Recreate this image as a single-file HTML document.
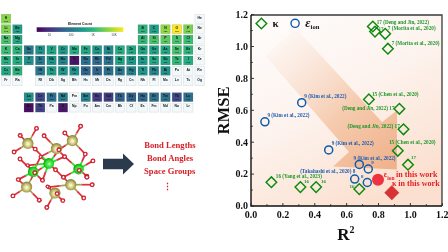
<!DOCTYPE html>
<html><head><meta charset="utf-8"><style>
html,body{margin:0;padding:0;background:#fff;width:448px;height:252px;overflow:hidden}
svg{display:block}
.ps{font-family:"Liberation Sans",sans-serif;font-size:3.4px;font-weight:bold;text-anchor:middle;fill:#111}
.pn{font-family:"Liberation Sans",sans-serif;font-size:2.3px;text-anchor:middle;fill:#1a1a1a}
.lb{font-family:"Liberation Serif",serif;font-size:5.2px;font-weight:bold}
.tk{font-family:"Liberation Serif",serif;font-size:10px;font-weight:bold;fill:#111}
.rt{font-family:"Liberation Serif",serif;font-weight:bold;fill:#d42027}
</style></head><body>
<svg width="448" height="252" viewBox="0 0 448 252">
<defs>
<linearGradient id="cb" x1="0" y1="0" x2="1" y2="0"><stop offset="0.000" stop-color="#440154"/><stop offset="0.111" stop-color="#482878"/><stop offset="0.222" stop-color="#3e4989"/><stop offset="0.333" stop-color="#31688e"/><stop offset="0.444" stop-color="#26828e"/><stop offset="0.556" stop-color="#1f9e89"/><stop offset="0.667" stop-color="#35b779"/><stop offset="0.778" stop-color="#6ece58"/><stop offset="0.889" stop-color="#b5de2b"/><stop offset="1.000" stop-color="#fde725"/></linearGradient>
<radialGradient id="gO" cx="0.5" cy="0.5" r="0.5"><stop offset="0" stop-color="#fff"/><stop offset="0.3" stop-color="#fff2f2"/><stop offset="0.5" stop-color="#e8404c"/><stop offset="0.8" stop-color="#d01e2c"/><stop offset="1" stop-color="#a0101c"/></radialGradient>
<radialGradient id="gP" cx="0.5" cy="0.55" r="0.55"><stop offset="0" stop-color="#fffff4"/><stop offset="0.25" stop-color="#ebe8b0"/><stop offset="0.62" stop-color="#bcb568"/><stop offset="1" stop-color="#7e7830"/></radialGradient>
<radialGradient id="gM" cx="0.55" cy="0.55" r="0.55"><stop offset="0" stop-color="#efffe8"/><stop offset="0.25" stop-color="#60f060"/><stop offset="0.75" stop-color="#22d022"/><stop offset="1" stop-color="#0e960e"/></radialGradient>
<linearGradient id="bg" x1="251" y1="15" x2="360" y2="212" gradientUnits="userSpaceOnUse"><stop offset="0" stop-color="#fefdfc"/><stop offset="0.5" stop-color="#fdf3ee"/><stop offset="1" stop-color="#fbe0cf"/></linearGradient>
<linearGradient id="ag" x1="280.75" y1="42.25" x2="396.8" y2="169.5" gradientUnits="userSpaceOnUse"><stop offset="0" stop-color="#f8dccb" stop-opacity="0.15"/><stop offset="0.55" stop-color="#f4c4a4" stop-opacity="0.85"/><stop offset="1" stop-color="#efb089"/></linearGradient>
</defs>
<rect width="448" height="252" fill="#fff"/>
<g><rect x="1.30" y="14.30" width="9.40" height="8.90" fill="#86d549" stroke="#000" stroke-opacity="0.18" stroke-width="0.6"/><text x="6.00" y="18.50" class="ps">H</text><text x="6.00" y="21.50" class="pn">123</text><rect x="194.93" y="14.30" width="9.40" height="8.90" fill="#f3f9fa" stroke="#d9dfe2" stroke-width="0.6"/><text x="199.63" y="18.50" class="ps">He</text><text x="199.63" y="21.90" class="pn" fill="#aaa">-</text><rect x="1.30" y="24.72" width="9.40" height="8.90" fill="#7ed34f" stroke="#000" stroke-opacity="0.18" stroke-width="0.6"/><text x="6.00" y="28.92" class="ps">Li</text><text x="6.00" y="31.92" class="pn">123</text><rect x="12.69" y="24.72" width="9.40" height="8.90" fill="#1f9e89" stroke="#000" stroke-opacity="0.18" stroke-width="0.6"/><text x="17.39" y="28.92" class="ps">Be</text><text x="17.39" y="31.92" class="pn">123</text><rect x="137.98" y="24.72" width="9.40" height="8.90" fill="#2db27d" stroke="#000" stroke-opacity="0.18" stroke-width="0.6"/><text x="142.68" y="28.92" class="ps">B</text><text x="142.68" y="31.92" class="pn">123</text><rect x="149.37" y="24.72" width="9.40" height="8.90" fill="#1f9e89" stroke="#000" stroke-opacity="0.18" stroke-width="0.6"/><text x="154.07" y="28.92" class="ps">C</text><text x="154.07" y="31.92" class="pn">123</text><rect x="160.76" y="24.72" width="9.40" height="8.90" fill="#8fd744" stroke="#000" stroke-opacity="0.18" stroke-width="0.6"/><text x="165.46" y="28.92" class="ps">N</text><text x="165.46" y="31.92" class="pn">123</text><rect x="172.15" y="24.72" width="9.40" height="8.90" fill="#fde725" stroke="#000" stroke-opacity="0.18" stroke-width="0.6"/><text x="176.85" y="28.92" class="ps">O</text><text x="176.85" y="31.92" class="pn">123</text><rect x="183.54" y="24.72" width="9.40" height="8.90" fill="#7ad151" stroke="#000" stroke-opacity="0.18" stroke-width="0.6"/><text x="188.24" y="28.92" class="ps">F</text><text x="188.24" y="31.92" class="pn">123</text><rect x="194.93" y="24.72" width="9.40" height="8.90" fill="#f3f9fa" stroke="#d9dfe2" stroke-width="0.6"/><text x="199.63" y="28.92" class="ps">Ne</text><text x="199.63" y="32.32" class="pn" fill="#aaa">-</text><rect x="1.30" y="35.14" width="9.40" height="8.90" fill="#4ac16d" stroke="#000" stroke-opacity="0.18" stroke-width="0.6"/><text x="6.00" y="39.34" class="ps">Na</text><text x="6.00" y="42.34" class="pn">123</text><rect x="12.69" y="35.14" width="9.40" height="8.90" fill="#22a884" stroke="#000" stroke-opacity="0.18" stroke-width="0.6"/><text x="17.39" y="39.34" class="ps">Mg</text><text x="17.39" y="42.34" class="pn">123</text><rect x="137.98" y="35.14" width="9.40" height="8.90" fill="#35b779" stroke="#000" stroke-opacity="0.18" stroke-width="0.6"/><text x="142.68" y="39.34" class="ps">Al</text><text x="142.68" y="42.34" class="pn">123</text><rect x="149.37" y="35.14" width="9.40" height="8.90" fill="#4ac16d" stroke="#000" stroke-opacity="0.18" stroke-width="0.6"/><text x="154.07" y="39.34" class="ps">Si</text><text x="154.07" y="42.34" class="pn">123</text><rect x="160.76" y="35.14" width="9.40" height="8.90" fill="#5ec962" stroke="#000" stroke-opacity="0.18" stroke-width="0.6"/><text x="165.46" y="39.34" class="ps">P</text><text x="165.46" y="42.34" class="pn">123</text><rect x="172.15" y="35.14" width="9.40" height="8.90" fill="#4ac16d" stroke="#000" stroke-opacity="0.18" stroke-width="0.6"/><text x="176.85" y="39.34" class="ps">S</text><text x="176.85" y="42.34" class="pn">123</text><rect x="183.54" y="35.14" width="9.40" height="8.90" fill="#3dbc74" stroke="#000" stroke-opacity="0.18" stroke-width="0.6"/><text x="188.24" y="39.34" class="ps">Cl</text><text x="188.24" y="42.34" class="pn">123</text><rect x="194.93" y="35.14" width="9.40" height="8.90" fill="#f3f9fa" stroke="#d9dfe2" stroke-width="0.6"/><text x="199.63" y="39.34" class="ps">Ar</text><text x="199.63" y="42.74" class="pn" fill="#aaa">-</text><rect x="1.30" y="45.56" width="9.40" height="8.90" fill="#3dbc74" stroke="#000" stroke-opacity="0.18" stroke-width="0.6"/><text x="6.00" y="49.76" class="ps">K</text><text x="6.00" y="52.76" class="pn">123</text><rect x="12.69" y="45.56" width="9.40" height="8.90" fill="#2fb47c" stroke="#000" stroke-opacity="0.18" stroke-width="0.6"/><text x="17.39" y="49.76" class="ps">Ca</text><text x="17.39" y="52.76" class="pn">123</text><rect x="24.08" y="45.56" width="9.40" height="8.90" fill="#2a788e" stroke="#000" stroke-opacity="0.18" stroke-width="0.6"/><text x="28.78" y="49.76" class="ps">Sc</text><text x="28.78" y="52.76" class="pn">123</text><rect x="35.47" y="45.56" width="9.40" height="8.90" fill="#21918c" stroke="#000" stroke-opacity="0.18" stroke-width="0.6"/><text x="40.17" y="49.76" class="ps">Ti</text><text x="40.17" y="52.76" class="pn">123</text><rect x="46.86" y="45.56" width="9.40" height="8.90" fill="#20a386" stroke="#000" stroke-opacity="0.18" stroke-width="0.6"/><text x="51.56" y="49.76" class="ps">V</text><text x="51.56" y="52.76" class="pn">123</text><rect x="58.25" y="45.56" width="9.40" height="8.90" fill="#1f9a8a" stroke="#000" stroke-opacity="0.18" stroke-width="0.6"/><text x="62.95" y="49.76" class="ps">Cr</text><text x="62.95" y="52.76" class="pn">123</text><rect x="69.64" y="45.56" width="9.40" height="8.90" fill="#27ad81" stroke="#000" stroke-opacity="0.18" stroke-width="0.6"/><text x="74.34" y="49.76" class="ps">Mn</text><text x="74.34" y="52.76" class="pn">123</text><rect x="81.03" y="45.56" width="9.40" height="8.90" fill="#22a884" stroke="#000" stroke-opacity="0.18" stroke-width="0.6"/><text x="85.73" y="49.76" class="ps">Fe</text><text x="85.73" y="52.76" class="pn">123</text><rect x="92.42" y="45.56" width="9.40" height="8.90" fill="#1f9a8a" stroke="#000" stroke-opacity="0.18" stroke-width="0.6"/><text x="97.12" y="49.76" class="ps">Co</text><text x="97.12" y="52.76" class="pn">123</text><rect x="103.81" y="45.56" width="9.40" height="8.90" fill="#228c8d" stroke="#000" stroke-opacity="0.18" stroke-width="0.6"/><text x="108.51" y="49.76" class="ps">Ni</text><text x="108.51" y="52.76" class="pn">123</text><rect x="115.20" y="45.56" width="9.40" height="8.90" fill="#25ac82" stroke="#000" stroke-opacity="0.18" stroke-width="0.6"/><text x="119.90" y="49.76" class="ps">Cu</text><text x="119.90" y="52.76" class="pn">123</text><rect x="126.59" y="45.56" width="9.40" height="8.90" fill="#22a884" stroke="#000" stroke-opacity="0.18" stroke-width="0.6"/><text x="131.29" y="49.76" class="ps">Zn</text><text x="131.29" y="52.76" class="pn">123</text><rect x="137.98" y="45.56" width="9.40" height="8.90" fill="#22a884" stroke="#000" stroke-opacity="0.18" stroke-width="0.6"/><text x="142.68" y="49.76" class="ps">Ga</text><text x="142.68" y="52.76" class="pn">123</text><rect x="149.37" y="45.56" width="9.40" height="8.90" fill="#20a386" stroke="#000" stroke-opacity="0.18" stroke-width="0.6"/><text x="154.07" y="49.76" class="ps">Ge</text><text x="154.07" y="52.76" class="pn">123</text><rect x="160.76" y="45.56" width="9.40" height="8.90" fill="#22a884" stroke="#000" stroke-opacity="0.18" stroke-width="0.6"/><text x="165.46" y="49.76" class="ps">As</text><text x="165.46" y="52.76" class="pn">123</text><rect x="172.15" y="45.56" width="9.40" height="8.90" fill="#4ac16d" stroke="#000" stroke-opacity="0.18" stroke-width="0.6"/><text x="176.85" y="49.76" class="ps">Se</text><text x="176.85" y="52.76" class="pn">123</text><rect x="183.54" y="45.56" width="9.40" height="8.90" fill="#2fb47c" stroke="#000" stroke-opacity="0.18" stroke-width="0.6"/><text x="188.24" y="49.76" class="ps">Br</text><text x="188.24" y="52.76" class="pn">123</text><rect x="194.93" y="45.56" width="9.40" height="8.90" fill="#f3f9fa" stroke="#d9dfe2" stroke-width="0.6"/><text x="199.63" y="49.76" class="ps">Kr</text><text x="199.63" y="53.16" class="pn" fill="#aaa">-</text><rect x="1.30" y="55.98" width="9.40" height="8.90" fill="#29af7f" stroke="#000" stroke-opacity="0.18" stroke-width="0.6"/><text x="6.00" y="60.18" class="ps">Rb</text><text x="6.00" y="63.18" class="pn">123</text><rect x="12.69" y="55.98" width="9.40" height="8.90" fill="#25ac82" stroke="#000" stroke-opacity="0.18" stroke-width="0.6"/><text x="17.39" y="60.18" class="ps">Sr</text><text x="17.39" y="63.18" class="pn">123</text><rect x="24.08" y="55.98" width="9.40" height="8.90" fill="#21918c" stroke="#000" stroke-opacity="0.18" stroke-width="0.6"/><text x="28.78" y="60.18" class="ps">Y</text><text x="28.78" y="63.18" class="pn">123</text><rect x="35.47" y="55.98" width="9.40" height="8.90" fill="#29798e" stroke="#000" stroke-opacity="0.18" stroke-width="0.6"/><text x="40.17" y="60.18" class="ps">Zr</text><text x="40.17" y="63.18" class="pn">123</text><rect x="46.86" y="55.98" width="9.40" height="8.90" fill="#1f968b" stroke="#000" stroke-opacity="0.18" stroke-width="0.6"/><text x="51.56" y="60.18" class="ps">Nb</text><text x="51.56" y="63.18" class="pn">123</text><rect x="58.25" y="55.98" width="9.40" height="8.90" fill="#25848e" stroke="#000" stroke-opacity="0.18" stroke-width="0.6"/><text x="62.95" y="60.18" class="ps">Mo</text><text x="62.95" y="63.18" class="pn">123</text><rect x="69.64" y="55.98" width="9.40" height="8.90" fill="#481668" stroke="#000" stroke-opacity="0.18" stroke-width="0.6"/><text x="74.34" y="60.18" class="ps">Tc</text><text x="74.34" y="63.18" class="pn">123</text><rect x="81.03" y="55.98" width="9.40" height="8.90" fill="#2c728e" stroke="#000" stroke-opacity="0.18" stroke-width="0.6"/><text x="85.73" y="60.18" class="ps">Ru</text><text x="85.73" y="63.18" class="pn">123</text><rect x="92.42" y="55.98" width="9.40" height="8.90" fill="#2f6c8e" stroke="#000" stroke-opacity="0.18" stroke-width="0.6"/><text x="97.12" y="60.18" class="ps">Rh</text><text x="97.12" y="63.18" class="pn">123</text><rect x="103.81" y="55.98" width="9.40" height="8.90" fill="#2c738e" stroke="#000" stroke-opacity="0.18" stroke-width="0.6"/><text x="108.51" y="60.18" class="ps">Pd</text><text x="108.51" y="63.18" class="pn">123</text><rect x="115.20" y="55.98" width="9.40" height="8.90" fill="#21a585" stroke="#000" stroke-opacity="0.18" stroke-width="0.6"/><text x="119.90" y="60.18" class="ps">Ag</text><text x="119.90" y="63.18" class="pn">123</text><rect x="126.59" y="55.98" width="9.40" height="8.90" fill="#1f9a8a" stroke="#000" stroke-opacity="0.18" stroke-width="0.6"/><text x="131.29" y="60.18" class="ps">Cd</text><text x="131.29" y="63.18" class="pn">123</text><rect x="137.98" y="55.98" width="9.40" height="8.90" fill="#1f9a8a" stroke="#000" stroke-opacity="0.18" stroke-width="0.6"/><text x="142.68" y="60.18" class="ps">In</text><text x="142.68" y="63.18" class="pn">123</text><rect x="149.37" y="55.98" width="9.40" height="8.90" fill="#22a884" stroke="#000" stroke-opacity="0.18" stroke-width="0.6"/><text x="154.07" y="60.18" class="ps">Sn</text><text x="154.07" y="63.18" class="pn">123</text><rect x="160.76" y="55.98" width="9.40" height="8.90" fill="#21a585" stroke="#000" stroke-opacity="0.18" stroke-width="0.6"/><text x="165.46" y="60.18" class="ps">Sb</text><text x="165.46" y="63.18" class="pn">123</text><rect x="172.15" y="55.98" width="9.40" height="8.90" fill="#35b779" stroke="#000" stroke-opacity="0.18" stroke-width="0.6"/><text x="176.85" y="60.18" class="ps">Te</text><text x="176.85" y="63.18" class="pn">123</text><rect x="183.54" y="55.98" width="9.40" height="8.90" fill="#25ac82" stroke="#000" stroke-opacity="0.18" stroke-width="0.6"/><text x="188.24" y="60.18" class="ps">I</text><text x="188.24" y="63.18" class="pn">123</text><rect x="194.93" y="55.98" width="9.40" height="8.90" fill="#f3f9fa" stroke="#d9dfe2" stroke-width="0.6"/><text x="199.63" y="60.18" class="ps">Xe</text><text x="199.63" y="63.58" class="pn" fill="#aaa">-</text><rect x="1.30" y="66.40" width="9.40" height="8.90" fill="#22a884" stroke="#000" stroke-opacity="0.18" stroke-width="0.6"/><text x="6.00" y="70.60" class="ps">Cs</text><text x="6.00" y="73.60" class="pn">123</text><rect x="12.69" y="66.40" width="9.40" height="8.90" fill="#2db27d" stroke="#000" stroke-opacity="0.18" stroke-width="0.6"/><text x="17.39" y="70.60" class="ps">Ba</text><text x="17.39" y="73.60" class="pn">123</text><rect x="35.47" y="66.40" width="9.40" height="8.90" fill="#2a788e" stroke="#000" stroke-opacity="0.18" stroke-width="0.6"/><text x="40.17" y="70.60" class="ps">Hf</text><text x="40.17" y="73.60" class="pn">123</text><rect x="46.86" y="66.40" width="9.40" height="8.90" fill="#1f9e89" stroke="#000" stroke-opacity="0.18" stroke-width="0.6"/><text x="51.56" y="70.60" class="ps">Ta</text><text x="51.56" y="73.60" class="pn">123</text><rect x="58.25" y="66.40" width="9.40" height="8.90" fill="#1f958b" stroke="#000" stroke-opacity="0.18" stroke-width="0.6"/><text x="62.95" y="70.60" class="ps">W</text><text x="62.95" y="73.60" class="pn">123</text><rect x="69.64" y="66.40" width="9.40" height="8.90" fill="#20928c" stroke="#000" stroke-opacity="0.18" stroke-width="0.6"/><text x="74.34" y="70.60" class="ps">Re</text><text x="74.34" y="73.60" class="pn">123</text><rect x="81.03" y="66.40" width="9.40" height="8.90" fill="#31688e" stroke="#000" stroke-opacity="0.18" stroke-width="0.6"/><text x="85.73" y="70.60" class="ps">Os</text><text x="85.73" y="73.60" class="pn">123</text><rect x="92.42" y="66.40" width="9.40" height="8.90" fill="#32658e" stroke="#000" stroke-opacity="0.18" stroke-width="0.6"/><text x="97.12" y="70.60" class="ps">Ir</text><text x="97.12" y="73.60" class="pn">123</text><rect x="103.81" y="66.40" width="9.40" height="8.90" fill="#2c728e" stroke="#000" stroke-opacity="0.18" stroke-width="0.6"/><text x="108.51" y="70.60" class="ps">Pt</text><text x="108.51" y="73.60" class="pn">123</text><rect x="115.20" y="66.40" width="9.40" height="8.90" fill="#2a788e" stroke="#000" stroke-opacity="0.18" stroke-width="0.6"/><text x="119.90" y="70.60" class="ps">Au</text><text x="119.90" y="73.60" class="pn">123</text><rect x="126.59" y="66.40" width="9.40" height="8.90" fill="#25848e" stroke="#000" stroke-opacity="0.18" stroke-width="0.6"/><text x="131.29" y="70.60" class="ps">Hg</text><text x="131.29" y="73.60" class="pn">123</text><rect x="137.98" y="66.40" width="9.40" height="8.90" fill="#1f958b" stroke="#000" stroke-opacity="0.18" stroke-width="0.6"/><text x="142.68" y="70.60" class="ps">Tl</text><text x="142.68" y="73.60" class="pn">123</text><rect x="149.37" y="66.40" width="9.40" height="8.90" fill="#25848e" stroke="#000" stroke-opacity="0.18" stroke-width="0.6"/><text x="154.07" y="70.60" class="ps">Pb</text><text x="154.07" y="73.60" class="pn">123</text><rect x="160.76" y="66.40" width="9.40" height="8.90" fill="#21918c" stroke="#000" stroke-opacity="0.18" stroke-width="0.6"/><text x="165.46" y="70.60" class="ps">Bi</text><text x="165.46" y="73.60" class="pn">123</text><rect x="172.15" y="66.40" width="9.40" height="8.90" fill="#f3f9fa" stroke="#d9dfe2" stroke-width="0.6"/><text x="176.85" y="70.60" class="ps">Po</text><text x="176.85" y="74.00" class="pn" fill="#aaa">-</text><rect x="183.54" y="66.40" width="9.40" height="8.90" fill="#f3f9fa" stroke="#d9dfe2" stroke-width="0.6"/><text x="188.24" y="70.60" class="ps">At</text><text x="188.24" y="74.00" class="pn" fill="#aaa">-</text><rect x="194.93" y="66.40" width="9.40" height="8.90" fill="#f3f9fa" stroke="#d9dfe2" stroke-width="0.6"/><text x="199.63" y="70.60" class="ps">Rn</text><text x="199.63" y="74.00" class="pn" fill="#aaa">-</text><rect x="1.30" y="76.82" width="9.40" height="8.90" fill="#f3f9fa" stroke="#d9dfe2" stroke-width="0.6"/><text x="6.00" y="81.02" class="ps">Fr</text><text x="6.00" y="84.42" class="pn" fill="#aaa">-</text><rect x="12.69" y="76.82" width="9.40" height="8.90" fill="#f3f9fa" stroke="#d9dfe2" stroke-width="0.6"/><text x="17.39" y="81.02" class="ps">Ra</text><text x="17.39" y="84.42" class="pn" fill="#aaa">-</text><rect x="35.47" y="76.82" width="9.40" height="8.90" fill="#f3f9fa" stroke="#d9dfe2" stroke-width="0.6"/><text x="40.17" y="81.02" class="ps">Rf</text><text x="40.17" y="84.42" class="pn" fill="#aaa">-</text><rect x="46.86" y="76.82" width="9.40" height="8.90" fill="#f3f9fa" stroke="#d9dfe2" stroke-width="0.6"/><text x="51.56" y="81.02" class="ps">Db</text><text x="51.56" y="84.42" class="pn" fill="#aaa">-</text><rect x="58.25" y="76.82" width="9.40" height="8.90" fill="#f3f9fa" stroke="#d9dfe2" stroke-width="0.6"/><text x="62.95" y="81.02" class="ps">Sg</text><text x="62.95" y="84.42" class="pn" fill="#aaa">-</text><rect x="69.64" y="76.82" width="9.40" height="8.90" fill="#f3f9fa" stroke="#d9dfe2" stroke-width="0.6"/><text x="74.34" y="81.02" class="ps">Bh</text><text x="74.34" y="84.42" class="pn" fill="#aaa">-</text><rect x="81.03" y="76.82" width="9.40" height="8.90" fill="#f3f9fa" stroke="#d9dfe2" stroke-width="0.6"/><text x="85.73" y="81.02" class="ps">Hs</text><text x="85.73" y="84.42" class="pn" fill="#aaa">-</text><rect x="92.42" y="76.82" width="9.40" height="8.90" fill="#f3f9fa" stroke="#d9dfe2" stroke-width="0.6"/><text x="97.12" y="81.02" class="ps">Mt</text><text x="97.12" y="84.42" class="pn" fill="#aaa">-</text><rect x="103.81" y="76.82" width="9.40" height="8.90" fill="#f3f9fa" stroke="#d9dfe2" stroke-width="0.6"/><text x="108.51" y="81.02" class="ps">Ds</text><text x="108.51" y="84.42" class="pn" fill="#aaa">-</text><rect x="115.20" y="76.82" width="9.40" height="8.90" fill="#f3f9fa" stroke="#d9dfe2" stroke-width="0.6"/><text x="119.90" y="81.02" class="ps">Rg</text><text x="119.90" y="84.42" class="pn" fill="#aaa">-</text><rect x="126.59" y="76.82" width="9.40" height="8.90" fill="#f3f9fa" stroke="#d9dfe2" stroke-width="0.6"/><text x="131.29" y="81.02" class="ps">Cn</text><text x="131.29" y="84.42" class="pn" fill="#aaa">-</text><rect x="137.98" y="76.82" width="9.40" height="8.90" fill="#f3f9fa" stroke="#d9dfe2" stroke-width="0.6"/><text x="142.68" y="81.02" class="ps">Nh</text><text x="142.68" y="84.42" class="pn" fill="#aaa">-</text><rect x="149.37" y="76.82" width="9.40" height="8.90" fill="#f3f9fa" stroke="#d9dfe2" stroke-width="0.6"/><text x="154.07" y="81.02" class="ps">Fl</text><text x="154.07" y="84.42" class="pn" fill="#aaa">-</text><rect x="160.76" y="76.82" width="9.40" height="8.90" fill="#f3f9fa" stroke="#d9dfe2" stroke-width="0.6"/><text x="165.46" y="81.02" class="ps">Mc</text><text x="165.46" y="84.42" class="pn" fill="#aaa">-</text><rect x="172.15" y="76.82" width="9.40" height="8.90" fill="#f3f9fa" stroke="#d9dfe2" stroke-width="0.6"/><text x="176.85" y="81.02" class="ps">Lv</text><text x="176.85" y="84.42" class="pn" fill="#aaa">-</text><rect x="183.54" y="76.82" width="9.40" height="8.90" fill="#f3f9fa" stroke="#d9dfe2" stroke-width="0.6"/><text x="188.24" y="81.02" class="ps">Ts</text><text x="188.24" y="84.42" class="pn" fill="#aaa">-</text><rect x="194.93" y="76.82" width="9.40" height="8.90" fill="#f3f9fa" stroke="#d9dfe2" stroke-width="0.6"/><text x="199.63" y="81.02" class="ps">Og</text><text x="199.63" y="84.42" class="pn" fill="#aaa">-</text><rect x="24.08" y="92.70" width="9.40" height="8.90" fill="#21918c" stroke="#000" stroke-opacity="0.18" stroke-width="0.6"/><text x="28.78" y="96.90" class="ps">La</text><text x="28.78" y="99.90" class="pn">123</text><rect x="24.08" y="103.20" width="9.40" height="8.90" fill="#471063" stroke="#000" stroke-opacity="0.18" stroke-width="0.6"/><text x="28.78" y="107.40" class="ps">Ac</text><text x="28.78" y="110.40" class="pn">123</text><rect x="35.47" y="92.70" width="9.40" height="8.90" fill="#3e4989" stroke="#000" stroke-opacity="0.18" stroke-width="0.6"/><text x="40.17" y="96.90" class="ps">Ce</text><text x="40.17" y="99.90" class="pn">123</text><rect x="35.47" y="103.20" width="9.40" height="8.90" fill="#414487" stroke="#000" stroke-opacity="0.18" stroke-width="0.6"/><text x="40.17" y="107.40" class="ps">Th</text><text x="40.17" y="110.40" class="pn">123</text><rect x="46.86" y="92.70" width="9.40" height="8.90" fill="#2c728e" stroke="#000" stroke-opacity="0.18" stroke-width="0.6"/><text x="51.56" y="96.90" class="ps">Pr</text><text x="51.56" y="99.90" class="pn">123</text><rect x="46.86" y="103.20" width="9.40" height="8.90" fill="#f3f9fa" stroke="#d9dfe2" stroke-width="0.6"/><text x="51.56" y="107.40" class="ps">Pa</text><text x="51.56" y="110.80" class="pn" fill="#aaa">-</text><rect x="58.25" y="92.70" width="9.40" height="8.90" fill="#287c8e" stroke="#000" stroke-opacity="0.18" stroke-width="0.6"/><text x="62.95" y="96.90" class="ps">Nd</text><text x="62.95" y="99.90" class="pn">123</text><rect x="58.25" y="103.20" width="9.40" height="8.90" fill="#481a6c" stroke="#000" stroke-opacity="0.18" stroke-width="0.6"/><text x="62.95" y="107.40" class="ps">U</text><text x="62.95" y="110.40" class="pn">123</text><rect x="69.64" y="92.70" width="9.40" height="8.90" fill="#f3f9fa" stroke="#d9dfe2" stroke-width="0.6"/><text x="74.34" y="96.90" class="ps">Pm</text><text x="74.34" y="100.30" class="pn" fill="#aaa">-</text><rect x="69.64" y="103.20" width="9.40" height="8.90" fill="#f3f9fa" stroke="#d9dfe2" stroke-width="0.6"/><text x="74.34" y="107.40" class="ps">Np</text><text x="74.34" y="110.80" class="pn" fill="#aaa">-</text><rect x="81.03" y="92.70" width="9.40" height="8.90" fill="#26828e" stroke="#000" stroke-opacity="0.18" stroke-width="0.6"/><text x="85.73" y="96.90" class="ps">Sm</text><text x="85.73" y="99.90" class="pn">123</text><rect x="81.03" y="103.20" width="9.40" height="8.90" fill="#f3f9fa" stroke="#d9dfe2" stroke-width="0.6"/><text x="85.73" y="107.40" class="ps">Pu</text><text x="85.73" y="110.80" class="pn" fill="#aaa">-</text><rect x="92.42" y="92.70" width="9.40" height="8.90" fill="#433e85" stroke="#000" stroke-opacity="0.18" stroke-width="0.6"/><text x="97.12" y="96.90" class="ps">Eu</text><text x="97.12" y="99.90" class="pn">123</text><rect x="92.42" y="103.20" width="9.40" height="8.90" fill="#f3f9fa" stroke="#d9dfe2" stroke-width="0.6"/><text x="97.12" y="107.40" class="ps">Am</text><text x="97.12" y="110.80" class="pn" fill="#aaa">-</text><rect x="103.81" y="92.70" width="9.40" height="8.90" fill="#423f85" stroke="#000" stroke-opacity="0.18" stroke-width="0.6"/><text x="108.51" y="96.90" class="ps">Gd</text><text x="108.51" y="99.90" class="pn">123</text><rect x="103.81" y="103.20" width="9.40" height="8.90" fill="#f3f9fa" stroke="#d9dfe2" stroke-width="0.6"/><text x="108.51" y="107.40" class="ps">Cm</text><text x="108.51" y="110.80" class="pn" fill="#aaa">-</text><rect x="115.20" y="92.70" width="9.40" height="8.90" fill="#33638d" stroke="#000" stroke-opacity="0.18" stroke-width="0.6"/><text x="119.90" y="96.90" class="ps">Tb</text><text x="119.90" y="99.90" class="pn">123</text><rect x="115.20" y="103.20" width="9.40" height="8.90" fill="#f3f9fa" stroke="#d9dfe2" stroke-width="0.6"/><text x="119.90" y="107.40" class="ps">Bk</text><text x="119.90" y="110.80" class="pn" fill="#aaa">-</text><rect x="126.59" y="92.70" width="9.40" height="8.90" fill="#33638d" stroke="#000" stroke-opacity="0.18" stroke-width="0.6"/><text x="131.29" y="96.90" class="ps">Dy</text><text x="131.29" y="99.90" class="pn">123</text><rect x="126.59" y="103.20" width="9.40" height="8.90" fill="#f3f9fa" stroke="#d9dfe2" stroke-width="0.6"/><text x="131.29" y="107.40" class="ps">Cf</text><text x="131.29" y="110.80" class="pn" fill="#aaa">-</text><rect x="137.98" y="92.70" width="9.40" height="8.90" fill="#31688e" stroke="#000" stroke-opacity="0.18" stroke-width="0.6"/><text x="142.68" y="96.90" class="ps">Ho</text><text x="142.68" y="99.90" class="pn">123</text><rect x="137.98" y="103.20" width="9.40" height="8.90" fill="#f3f9fa" stroke="#d9dfe2" stroke-width="0.6"/><text x="142.68" y="107.40" class="ps">Es</text><text x="142.68" y="110.80" class="pn" fill="#aaa">-</text><rect x="149.37" y="92.70" width="9.40" height="8.90" fill="#2d708e" stroke="#000" stroke-opacity="0.18" stroke-width="0.6"/><text x="154.07" y="96.90" class="ps">Er</text><text x="154.07" y="99.90" class="pn">123</text><rect x="149.37" y="103.20" width="9.40" height="8.90" fill="#f3f9fa" stroke="#d9dfe2" stroke-width="0.6"/><text x="154.07" y="107.40" class="ps">Fm</text><text x="154.07" y="110.80" class="pn" fill="#aaa">-</text><rect x="160.76" y="92.70" width="9.40" height="8.90" fill="#2c728e" stroke="#000" stroke-opacity="0.18" stroke-width="0.6"/><text x="165.46" y="96.90" class="ps">Tm</text><text x="165.46" y="99.90" class="pn">123</text><rect x="160.76" y="103.20" width="9.40" height="8.90" fill="#f3f9fa" stroke="#d9dfe2" stroke-width="0.6"/><text x="165.46" y="107.40" class="ps">Md</text><text x="165.46" y="110.80" class="pn" fill="#aaa">-</text><rect x="172.15" y="92.70" width="9.40" height="8.90" fill="#3e4a89" stroke="#000" stroke-opacity="0.18" stroke-width="0.6"/><text x="176.85" y="96.90" class="ps">Yb</text><text x="176.85" y="99.90" class="pn">123</text><rect x="172.15" y="103.20" width="9.40" height="8.90" fill="#f3f9fa" stroke="#d9dfe2" stroke-width="0.6"/><text x="176.85" y="107.40" class="ps">No</text><text x="176.85" y="110.80" class="pn" fill="#aaa">-</text><rect x="183.54" y="92.70" width="9.40" height="8.90" fill="#2c728e" stroke="#000" stroke-opacity="0.18" stroke-width="0.6"/><text x="188.24" y="96.90" class="ps">Lu</text><text x="188.24" y="99.90" class="pn">123</text><rect x="183.54" y="103.20" width="9.40" height="8.90" fill="#f3f9fa" stroke="#d9dfe2" stroke-width="0.6"/><text x="188.24" y="107.40" class="ps">Lr</text><text x="188.24" y="110.80" class="pn" fill="#aaa">-</text></g>
<rect x="36.7" y="27.3" width="86.6" height="4.6" fill="url(#cb)"/>
<text x="79.9" y="25.3" text-anchor="middle" style="font-family:'Liberation Sans',sans-serif;font-size:3.4px;font-weight:bold;fill:#111">Element Count</text>
<g style="font-family:'Liberation Sans',sans-serif;font-size:3px;fill:#444" text-anchor="middle">
<text x="49.5" y="36.1">10</text><text x="71" y="36.1">100</text><text x="93" y="36.1">1K</text><text x="114" y="36.1">10K</text></g>
<g><line x1="55.5" y1="169.8" x2="63.4" y2="177.3" stroke="#e0303c" stroke-width="1.7"/><line x1="27.9" y1="143.4" x2="32.20" y2="135.90" stroke="#aaa055" stroke-width="1.7"/><line x1="32.20" y1="135.90" x2="36.5" y2="128.4" stroke="#e0303c" stroke-width="1.7"/><line x1="27.9" y1="143.4" x2="24.05" y2="139.45" stroke="#aaa055" stroke-width="1.7"/><line x1="24.05" y1="139.45" x2="20.2" y2="135.5" stroke="#e0303c" stroke-width="1.7"/><line x1="27.9" y1="143.4" x2="21.00" y2="147.70" stroke="#aaa055" stroke-width="1.7"/><line x1="21.00" y1="147.70" x2="14.1" y2="152" stroke="#e0303c" stroke-width="1.7"/><line x1="27.9" y1="143.4" x2="31.55" y2="146.25" stroke="#aaa055" stroke-width="1.7"/><line x1="31.55" y1="146.25" x2="35.2" y2="149.1" stroke="#e0303c" stroke-width="1.7"/><line x1="56.5" y1="148.5" x2="50.30" y2="142.15" stroke="#aaa055" stroke-width="1.7"/><line x1="50.30" y1="142.15" x2="44.1" y2="135.8" stroke="#e0303c" stroke-width="1.7"/><line x1="56.5" y1="148.5" x2="48.55" y2="152.60" stroke="#aaa055" stroke-width="1.7"/><line x1="48.55" y1="152.60" x2="40.6" y2="156.7" stroke="#e0303c" stroke-width="1.7"/><line x1="56.5" y1="148.5" x2="60.55" y2="152.60" stroke="#aaa055" stroke-width="1.7"/><line x1="60.55" y1="152.60" x2="64.6" y2="156.7" stroke="#e0303c" stroke-width="1.7"/><line x1="72.4" y1="140.6" x2="76.50" y2="133.45" stroke="#aaa055" stroke-width="1.7"/><line x1="76.50" y1="133.45" x2="80.6" y2="126.3" stroke="#e0303c" stroke-width="1.7"/><line x1="72.4" y1="140.6" x2="68.60" y2="136.80" stroke="#aaa055" stroke-width="1.7"/><line x1="68.60" y1="136.80" x2="64.8" y2="133" stroke="#e0303c" stroke-width="1.7"/><line x1="72.4" y1="140.6" x2="78.85" y2="147.35" stroke="#aaa055" stroke-width="1.7"/><line x1="78.85" y1="147.35" x2="85.3" y2="154.1" stroke="#e0303c" stroke-width="1.7"/><line x1="72.4" y1="140.6" x2="65.65" y2="145.20" stroke="#aaa055" stroke-width="1.7"/><line x1="65.65" y1="145.20" x2="58.9" y2="149.8" stroke="#e0303c" stroke-width="1.7"/><line x1="26.6" y1="187" x2="22.45" y2="183.30" stroke="#aaa055" stroke-width="1.7"/><line x1="22.45" y1="183.30" x2="18.3" y2="179.6" stroke="#e0303c" stroke-width="1.7"/><line x1="26.6" y1="187" x2="19.75" y2="191.45" stroke="#aaa055" stroke-width="1.7"/><line x1="19.75" y1="191.45" x2="12.9" y2="195.9" stroke="#e0303c" stroke-width="1.7"/><line x1="26.6" y1="187" x2="32.95" y2="193.60" stroke="#aaa055" stroke-width="1.7"/><line x1="32.95" y1="193.60" x2="39.3" y2="200.2" stroke="#e0303c" stroke-width="1.7"/><line x1="26.6" y1="187" x2="30.70" y2="179.85" stroke="#aaa055" stroke-width="1.7"/><line x1="30.70" y1="179.85" x2="34.8" y2="172.7" stroke="#e0303c" stroke-width="1.7"/><line x1="54.9" y1="193" x2="56.00" y2="193.30" stroke="#aaa055" stroke-width="1.7"/><line x1="56.00" y1="193.30" x2="57.1" y2="193.6" stroke="#e0303c" stroke-width="1.7"/><line x1="54.9" y1="193" x2="50.85" y2="200.25" stroke="#aaa055" stroke-width="1.7"/><line x1="50.85" y1="200.25" x2="46.8" y2="207.5" stroke="#e0303c" stroke-width="1.7"/><line x1="54.9" y1="193" x2="58.85" y2="196.80" stroke="#aaa055" stroke-width="1.7"/><line x1="58.85" y1="196.80" x2="62.8" y2="200.6" stroke="#e0303c" stroke-width="1.7"/><line x1="54.9" y1="193" x2="51.20" y2="189.80" stroke="#aaa055" stroke-width="1.7"/><line x1="51.20" y1="189.80" x2="47.5" y2="186.6" stroke="#e0303c" stroke-width="1.7"/><line x1="70.8" y1="184.7" x2="67.10" y2="181.00" stroke="#aaa055" stroke-width="1.7"/><line x1="67.10" y1="181.00" x2="63.4" y2="177.3" stroke="#e0303c" stroke-width="1.7"/><line x1="70.8" y1="184.7" x2="77.25" y2="191.35" stroke="#aaa055" stroke-width="1.7"/><line x1="77.25" y1="191.35" x2="83.7" y2="198" stroke="#e0303c" stroke-width="1.7"/><line x1="70.8" y1="184.7" x2="81.50" y2="184.70" stroke="#aaa055" stroke-width="1.7"/><line x1="81.50" y1="184.70" x2="92.2" y2="184.7" stroke="#e0303c" stroke-width="1.7"/><line x1="70.8" y1="184.7" x2="59.80" y2="185.95" stroke="#aaa055" stroke-width="1.7"/><line x1="59.80" y1="185.95" x2="48.8" y2="187.2" stroke="#e0303c" stroke-width="1.7"/><line x1="48.8" y1="163.4" x2="41.80" y2="168.05" stroke="#2ee02e" stroke-width="1.8"/><line x1="41.80" y1="168.05" x2="34.8" y2="172.7" stroke="#e0303c" stroke-width="1.8"/><line x1="48.8" y1="163.4" x2="38.20" y2="164.35" stroke="#2ee02e" stroke-width="1.8"/><line x1="38.20" y1="164.35" x2="27.6" y2="165.3" stroke="#e0303c" stroke-width="1.8"/><line x1="48.8" y1="163.4" x2="44.70" y2="160.05" stroke="#2ee02e" stroke-width="1.8"/><line x1="44.70" y1="160.05" x2="40.6" y2="156.7" stroke="#e0303c" stroke-width="1.8"/><line x1="48.8" y1="163.4" x2="56.70" y2="160.05" stroke="#2ee02e" stroke-width="1.8"/><line x1="56.70" y1="160.05" x2="64.6" y2="156.7" stroke="#e0303c" stroke-width="1.8"/><line x1="48.8" y1="163.4" x2="52.15" y2="166.60" stroke="#2ee02e" stroke-width="1.8"/><line x1="52.15" y1="166.60" x2="55.5" y2="169.8" stroke="#e0303c" stroke-width="1.8"/><line x1="48.8" y1="163.4" x2="42.00" y2="156.25" stroke="#2ee02e" stroke-width="1.8"/><line x1="42.00" y1="156.25" x2="35.2" y2="149.1" stroke="#e0303c" stroke-width="1.8"/><line x1="48.8" y1="163.4" x2="45.65" y2="171.85" stroke="#2ee02e" stroke-width="1.8"/><line x1="45.65" y1="171.85" x2="42.5" y2="180.3" stroke="#e0303c" stroke-width="1.8"/><line x1="48.8" y1="163.4" x2="53.85" y2="156.60" stroke="#2ee02e" stroke-width="1.8"/><line x1="53.85" y1="156.60" x2="58.9" y2="149.8" stroke="#e0303c" stroke-width="1.8"/><line x1="33.2" y1="171.7" x2="26.60" y2="165.35" stroke="#2ee02e" stroke-width="1.8"/><line x1="26.60" y1="165.35" x2="20" y2="159" stroke="#e0303c" stroke-width="1.8"/><line x1="33.2" y1="171.7" x2="30.40" y2="168.50" stroke="#2ee02e" stroke-width="1.8"/><line x1="30.40" y1="168.50" x2="27.6" y2="165.3" stroke="#e0303c" stroke-width="1.8"/><line x1="33.2" y1="171.7" x2="34.00" y2="172.20" stroke="#2ee02e" stroke-width="1.8"/><line x1="34.00" y1="172.20" x2="34.8" y2="172.7" stroke="#e0303c" stroke-width="1.8"/><line x1="33.2" y1="171.7" x2="25.75" y2="175.65" stroke="#2ee02e" stroke-width="1.8"/><line x1="25.75" y1="175.65" x2="18.3" y2="179.6" stroke="#e0303c" stroke-width="1.8"/><line x1="33.2" y1="171.7" x2="37.85" y2="176.00" stroke="#2ee02e" stroke-width="1.8"/><line x1="37.85" y1="176.00" x2="42.5" y2="180.3" stroke="#e0303c" stroke-width="1.8"/><line x1="33.2" y1="171.7" x2="36.90" y2="164.20" stroke="#2ee02e" stroke-width="1.8"/><line x1="36.90" y1="164.20" x2="40.6" y2="156.7" stroke="#e0303c" stroke-width="1.8"/><line x1="78.6" y1="169.1" x2="71.60" y2="162.90" stroke="#2ee02e" stroke-width="1.8"/><line x1="71.60" y1="162.90" x2="64.6" y2="156.7" stroke="#e0303c" stroke-width="1.8"/><line x1="78.6" y1="169.1" x2="81.95" y2="161.60" stroke="#2ee02e" stroke-width="1.8"/><line x1="81.95" y1="161.60" x2="85.3" y2="154.1" stroke="#e0303c" stroke-width="1.8"/><line x1="78.6" y1="169.1" x2="85.75" y2="165.00" stroke="#2ee02e" stroke-width="1.8"/><line x1="85.75" y1="165.00" x2="92.9" y2="160.9" stroke="#e0303c" stroke-width="1.8"/><line x1="78.6" y1="169.1" x2="78.90" y2="169.75" stroke="#2ee02e" stroke-width="1.8"/><line x1="78.90" y1="169.75" x2="79.2" y2="170.4" stroke="#e0303c" stroke-width="1.8"/><line x1="78.6" y1="169.1" x2="82.70" y2="172.60" stroke="#2ee02e" stroke-width="1.8"/><line x1="82.70" y1="172.60" x2="86.8" y2="176.1" stroke="#e0303c" stroke-width="1.8"/><line x1="78.6" y1="169.1" x2="71.00" y2="173.20" stroke="#2ee02e" stroke-width="1.8"/><line x1="71.00" y1="173.20" x2="63.4" y2="177.3" stroke="#e0303c" stroke-width="1.8"/><circle cx="40.6" cy="156.7" r="2.0" fill="url(#gO)"/><circle cx="27.6" cy="165.3" r="2.0" fill="url(#gO)"/><circle cx="48.8" cy="187.2" r="2.0" fill="url(#gO)"/><circle cx="47.5" cy="186.6" r="2.0" fill="url(#gO)"/><circle cx="27.9" cy="143.4" r="5.6" fill="url(#gP)"/><circle cx="56.5" cy="148.5" r="5.6" fill="url(#gP)"/><circle cx="72.4" cy="140.6" r="5.6" fill="url(#gP)"/><circle cx="26.6" cy="187" r="5.6" fill="url(#gP)"/><circle cx="54.9" cy="193" r="5.6" fill="url(#gP)"/><circle cx="70.8" cy="184.7" r="5.6" fill="url(#gP)"/><circle cx="48.8" cy="163.4" r="5.3" fill="url(#gM)"/><circle cx="33.2" cy="171.7" r="5.3" fill="url(#gM)"/><circle cx="78.6" cy="169.1" r="5.3" fill="url(#gM)"/><circle cx="36.5" cy="128.4" r="2.45" fill="url(#gO)"/><circle cx="20.2" cy="135.5" r="2.45" fill="url(#gO)"/><circle cx="14.1" cy="152" r="2.45" fill="url(#gO)"/><circle cx="35.2" cy="149.1" r="2.45" fill="url(#gO)"/><circle cx="44.1" cy="135.8" r="2.45" fill="url(#gO)"/><circle cx="58.9" cy="149.8" r="2.45" fill="url(#gO)"/><circle cx="64.6" cy="156.7" r="2.45" fill="url(#gO)"/><circle cx="80.6" cy="126.3" r="2.45" fill="url(#gO)"/><circle cx="64.8" cy="133" r="2.45" fill="url(#gO)"/><circle cx="85.3" cy="154.1" r="2.45" fill="url(#gO)"/><circle cx="20" cy="159" r="2.45" fill="url(#gO)"/><circle cx="34.8" cy="172.7" r="2.45" fill="url(#gO)"/><circle cx="55.5" cy="169.8" r="2.45" fill="url(#gO)"/><circle cx="92.9" cy="160.9" r="2.45" fill="url(#gO)"/><circle cx="79.2" cy="170.4" r="2.45" fill="url(#gO)"/><circle cx="86.8" cy="176.1" r="2.45" fill="url(#gO)"/><circle cx="18.3" cy="179.6" r="2.45" fill="url(#gO)"/><circle cx="42.5" cy="180.3" r="2.45" fill="url(#gO)"/><circle cx="12.9" cy="195.9" r="2.45" fill="url(#gO)"/><circle cx="39.3" cy="200.2" r="2.45" fill="url(#gO)"/><circle cx="63.4" cy="177.3" r="2.45" fill="url(#gO)"/><circle cx="86.9" cy="177.3" r="2.45" fill="url(#gO)"/><circle cx="92.2" cy="184.7" r="2.45" fill="url(#gO)"/><circle cx="57.1" cy="193.6" r="2.45" fill="url(#gO)"/><circle cx="62.8" cy="200.6" r="2.45" fill="url(#gO)"/><circle cx="83.7" cy="198" r="2.45" fill="url(#gO)"/><circle cx="46.8" cy="207.5" r="2.45" fill="url(#gO)"/></g>
<path d="M103 158.8H123V153.6L134 164L123 174.6V169.2H103Z" fill="#2c3a4e"/>
<g class="rt" style="font-size:8.6px" text-anchor="middle">
<text x="170" y="148">Bond Lengths</text>
<text x="170" y="161">Bond Angles</text>
<text x="169.7" y="174.3">Space Groups</text>
<text x="167.4" y="190">⋮</text></g>
<rect x="251" y="15" width="191" height="191" fill="url(#bg)"/>
<polygon points="296.0,28.5 382.0,122.0 397.0,110.5 396.8,169.5 333.0,166.5 349.0,152.0 265.5,56.0" fill="url(#ag)"/>
<g><path d="M367.50 26.50L372.80 21.20L378.10 26.50L372.80 31.80Z" fill="none" stroke="#0c8a0c" stroke-width="1.45"/><path d="M369.70 31.60L375.00 26.30L380.30 31.60L375.00 36.90Z" fill="none" stroke="#0c8a0c" stroke-width="1.45"/><path d="M379.90 33.80L385.20 28.50L390.50 33.80L385.20 39.10Z" fill="none" stroke="#0c8a0c" stroke-width="1.45"/><path d="M382.60 48.70L387.90 43.40L393.20 48.70L387.90 54.00Z" fill="none" stroke="#0c8a0c" stroke-width="1.45"/><path d="M363.60 99.40L368.90 94.10L374.20 99.40L368.90 104.70Z" fill="none" stroke="#0c8a0c" stroke-width="1.45"/><path d="M394.10 108.80L399.40 103.50L404.70 108.80L399.40 114.10Z" fill="none" stroke="#0c8a0c" stroke-width="1.45"/><path d="M398.20 129.30L403.50 124.00L408.80 129.30L403.50 134.60Z" fill="none" stroke="#0c8a0c" stroke-width="1.45"/><path d="M392.50 150.80L397.80 145.50L403.10 150.80L397.80 156.10Z" fill="none" stroke="#0c8a0c" stroke-width="1.45"/><path d="M402.70 164.70L408.00 159.40L413.30 164.70L408.00 170.00Z" fill="none" stroke="#0c8a0c" stroke-width="1.45"/><path d="M354.00 189.10L359.30 183.80L364.60 189.10L359.30 194.40Z" fill="none" stroke="#0c8a0c" stroke-width="1.45"/><path d="M310.80 187.10L316.10 181.80L321.40 187.10L316.10 192.40Z" fill="none" stroke="#0c8a0c" stroke-width="1.45"/><path d="M295.10 187.10L300.40 181.80L305.70 187.10L300.40 192.40Z" fill="none" stroke="#0c8a0c" stroke-width="1.45"/><path d="M266.10 182.20L271.40 176.90L276.70 182.20L271.40 187.50Z" fill="none" stroke="#0c8a0c" stroke-width="1.45"/><circle cx="301.7" cy="102.7" r="4.0" fill="none" stroke="#0f5cab" stroke-width="1.5"/><circle cx="264.9" cy="121.8" r="4.0" fill="none" stroke="#0f5cab" stroke-width="1.5"/><circle cx="328.7" cy="149.9" r="4.0" fill="none" stroke="#0f5cab" stroke-width="1.5"/><circle cx="359.3" cy="164.4" r="4.0" fill="none" stroke="#0f5cab" stroke-width="1.5"/><circle cx="368.3" cy="169.0" r="4.0" fill="none" stroke="#0f5cab" stroke-width="1.5"/><circle cx="354.7" cy="179.1" r="4.0" fill="none" stroke="#0f5cab" stroke-width="1.5"/><circle cx="367.3" cy="182.5" r="4.0" fill="none" stroke="#0f5cab" stroke-width="1.5"/><text x="376.7" y="24.3" text-anchor="start" class="lb" fill="#1f962a">17 (Deng and Jin, 2022)</text><text x="378.4" y="30.0" text-anchor="start" class="lb" fill="#1f962a" style="font-size:5px">17</text><text x="387.8" y="30.0" text-anchor="start" class="lb" fill="#1f962a">7 (Morita et al., 2020)</text><text x="391.7" y="44.5" text-anchor="start" class="lb" fill="#1f962a">7 (Morita et al., 2020)</text><text x="371.9" y="95.7" text-anchor="start" class="lb" fill="#1f962a">15 (Chen et al., 2020)</text><text x="394.5" y="109.8" text-anchor="end" class="lb" fill="#1f962a">(Deng and <tspan font-style="italic">Jin</tspan>, 2022) 17</text><text x="399.8" y="128.4" text-anchor="end" class="lb" fill="#1f962a">(Deng and <tspan font-style="italic">Jin</tspan>, 2022) 17</text><text x="388.9" y="144.3" text-anchor="start" class="lb" fill="#1f962a">15 (Chen et al., 2020)</text><text x="411.0" y="159.0" text-anchor="start" class="lb" fill="#1f962a" style="font-size:5px">17</text><text x="275.8" y="178.1" text-anchor="start" class="lb" fill="#1f962a">16 (Yang et al., 2023)</text><text x="304.0" y="182.9" text-anchor="start" class="lb" fill="#1f962a" style="font-size:5px">16</text><text x="321.0" y="182.9" text-anchor="start" class="lb" fill="#1f962a" style="font-size:5px">16</text><text x="354.5" y="187.5" text-anchor="end" class="lb" fill="#1f962a" style="font-size:5px">16</text><text x="304.3" y="97.7" text-anchor="start" class="lb" fill="#1c5cb0">9 (Kim et al., 2022)</text><text x="267.4" y="116.7" text-anchor="start" class="lb" fill="#1c5cb0">9 (Kim et al., 2022)</text><text x="331.7" y="145.4" text-anchor="start" class="lb" fill="#1c5cb0">9 (Kim et al., 2022)</text><text x="353.5" y="160.0" text-anchor="start" class="lb" fill="#1c5cb0">9 (Kim et al., 2022)</text><text x="371.3" y="164.2" text-anchor="start" class="lb" fill="#1c5cb0" style="font-size:5px">9</text><text x="360.9" y="177.5" text-anchor="start" class="lb" fill="#1c5cb0" style="font-size:5px">8</text><text x="355.3" y="172.8" text-anchor="end" class="lb" fill="#1c5cb0">(Takahashi et al., 2020) 8</text></g>
<circle cx="378" cy="179.7" r="6" fill="#ee3340"/>
<path d="M384.60 192.70L391.80 185.50L399.00 192.70L391.80 199.90Z" fill="#d63434" stroke="#d63434" stroke-width="0.5"/>
<g class="rt" style="font-size:8.1px;fill:#e41f28">
<text x="383.8" y="177.2">ε</text><text x="387.3" y="180.3" style="font-size:5.5px">ion</text>
<text x="396" y="177.4">in this work</text>
<text x="391.9" y="186">κ</text><text x="398.3" y="186">in this work</text></g>
<path d="M256.10 23.50L261.40 18.20L266.70 23.50L261.40 28.80Z" fill="none" stroke="#0c8a0c" stroke-width="1.45"/>
<text x="272.5" y="26.7" style="font-family:'Liberation Serif',serif;font-weight:bold;font-size:11px;fill:#111">κ</text>
<circle cx="295.1" cy="23.3" r="4.1" fill="none" stroke="#0f5cab" stroke-width="1.4"/>
<text x="305.2" y="26.8" style="font-family:'Liberation Serif',serif;font-weight:bold;font-size:12.5px;font-style:italic;fill:#111">ε</text><text x="310.6" y="29" style="font-family:'Liberation Serif',serif;font-weight:bold;font-size:6.6px;fill:#111">ion</text>
<path d="M251 15H442V206" fill="none" stroke="#3a3a3a" stroke-width="1.3"/>
<path d="M251 15V206H442" fill="none" stroke="#111" stroke-width="1.4"/>
<line x1="251.00" y1="206" x2="251.00" y2="203" stroke="#222" stroke-width="0.9"/><line x1="251" y1="206.00" x2="254" y2="206.00" stroke="#222" stroke-width="0.9"/><line x1="266.94" y1="206" x2="266.94" y2="204.2" stroke="#222" stroke-width="0.9"/><line x1="251" y1="190.05" x2="252.8" y2="190.05" stroke="#222" stroke-width="0.9"/><line x1="282.88" y1="206" x2="282.88" y2="203" stroke="#222" stroke-width="0.9"/><line x1="251" y1="174.10" x2="254" y2="174.10" stroke="#222" stroke-width="0.9"/><line x1="298.82" y1="206" x2="298.82" y2="204.2" stroke="#222" stroke-width="0.9"/><line x1="251" y1="158.15" x2="252.8" y2="158.15" stroke="#222" stroke-width="0.9"/><line x1="314.76" y1="206" x2="314.76" y2="203" stroke="#222" stroke-width="0.9"/><line x1="251" y1="142.20" x2="254" y2="142.20" stroke="#222" stroke-width="0.9"/><line x1="330.70" y1="206" x2="330.70" y2="204.2" stroke="#222" stroke-width="0.9"/><line x1="251" y1="126.25" x2="252.8" y2="126.25" stroke="#222" stroke-width="0.9"/><line x1="346.64" y1="206" x2="346.64" y2="203" stroke="#222" stroke-width="0.9"/><line x1="251" y1="110.30" x2="254" y2="110.30" stroke="#222" stroke-width="0.9"/><line x1="362.58" y1="206" x2="362.58" y2="204.2" stroke="#222" stroke-width="0.9"/><line x1="251" y1="94.35" x2="252.8" y2="94.35" stroke="#222" stroke-width="0.9"/><line x1="378.52" y1="206" x2="378.52" y2="203" stroke="#222" stroke-width="0.9"/><line x1="251" y1="78.40" x2="254" y2="78.40" stroke="#222" stroke-width="0.9"/><line x1="394.46" y1="206" x2="394.46" y2="204.2" stroke="#222" stroke-width="0.9"/><line x1="251" y1="62.45" x2="252.8" y2="62.45" stroke="#222" stroke-width="0.9"/><line x1="410.40" y1="206" x2="410.40" y2="203" stroke="#222" stroke-width="0.9"/><line x1="251" y1="46.50" x2="254" y2="46.50" stroke="#222" stroke-width="0.9"/><line x1="426.34" y1="206" x2="426.34" y2="204.2" stroke="#222" stroke-width="0.9"/><line x1="251" y1="30.55" x2="252.8" y2="30.55" stroke="#222" stroke-width="0.9"/><line x1="442.28" y1="206" x2="442.28" y2="203" stroke="#222" stroke-width="0.9"/><line x1="251" y1="14.60" x2="254" y2="14.60" stroke="#222" stroke-width="0.9"/><text x="251.00" y="218" text-anchor="middle" class="tk">0.0</text><text x="248" y="209.30" text-anchor="end" class="tk">0.0</text><text x="282.88" y="218" text-anchor="middle" class="tk">0.2</text><text x="248" y="177.40" text-anchor="end" class="tk">0.2</text><text x="314.76" y="218" text-anchor="middle" class="tk">0.4</text><text x="248" y="145.50" text-anchor="end" class="tk">0.4</text><text x="346.64" y="218" text-anchor="middle" class="tk">0.6</text><text x="248" y="113.60" text-anchor="end" class="tk">0.6</text><text x="378.52" y="218" text-anchor="middle" class="tk">0.8</text><text x="248" y="81.70" text-anchor="end" class="tk">0.8</text><text x="410.40" y="218" text-anchor="middle" class="tk">1.0</text><text x="248" y="49.80" text-anchor="end" class="tk">1.0</text><text x="442.28" y="218" text-anchor="middle" class="tk">1.2</text><text x="248" y="17.90" text-anchor="end" class="tk">1.2</text>
<text transform="translate(229.3,110.5) rotate(-90)" text-anchor="middle" style="font-family:'Liberation Serif',serif;font-weight:bold;font-size:16.6px;fill:#111">RMSE</text>
<text x="337.2" y="239.5" style="font-family:'Liberation Serif',serif;font-weight:bold;font-size:17px;fill:#111">R<tspan font-size="10px" dy="-7">2</tspan></text>
</svg>
</body></html>
